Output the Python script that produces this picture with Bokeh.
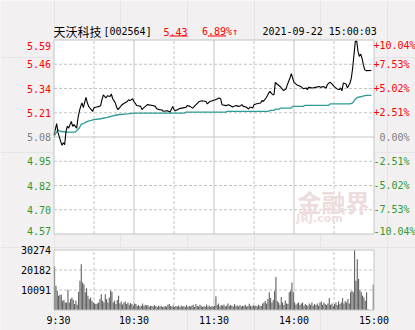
from bokeh.plotting import figure
from bokeh.models import Range1d
from bokeh.core.properties import value
from bokeh.embed import file_html
from bokeh.resources import INLINE

# ---------------- data ----------------
stock_name = "天沃科技"
stock_code = "[002564]"
last_price = "5.43"
change_text = "6.89%↑"
timestamp = "2021-09-22 15:00:03"
prev_close = 5.08

pct_levels = [10.04, 7.53, 5.02, 2.51, 0.00, -2.51, -5.02, -7.53, -10.04]
price_labels = ["5.59", "5.46", "5.34", "5.21", "5.08", "4.95", "4.82", "4.70", "4.57"]
pct_labels = ["+10.04%", "+7.53%", "+5.02%", "+2.51%", "0.00%", "-2.51%", "-5.02%", "-7.53%", "-10.04%"]

time_ticks = [0, 60, 120, 180, 240]
time_labels = ["9:30", "10:30", "11:30", "14:00", "15:00"]
vol_ticks = [10091, 20182, 30274]
vol_labels = ["10091", "20182", "30274"]

# minutes since 9:30 (lunch break removed) and price
price_minutes = [
    0, 2, 3, 5, 6, 7, 8, 9, 10, 11,
    13, 14, 15, 17, 18, 19, 20, 21, 22, 24,
    25, 26, 27, 29, 30, 32, 34, 35, 36, 37,
    39, 40, 42, 43, 44, 45, 46, 47, 48, 50,
    51, 53, 55, 56, 57, 59, 60, 62, 65, 66,
    67, 70, 74, 76, 77, 79, 81, 82, 85, 87,
    88, 89, 90, 91, 94, 96, 99, 100, 102, 104,
    106, 109, 111, 114, 115, 117, 121, 124, 125, 126,
    129, 131, 134, 136, 139, 141, 142, 144, 146, 147,
    149, 150, 152, 155, 156, 157, 159, 160, 161, 162,
    164, 165, 166, 167, 170, 172, 174, 175, 177, 178,
    179, 180, 182, 185, 187, 189, 190, 191, 194, 196,
    199, 200, 202, 204, 205, 207, 209, 210, 212, 214,
    215, 216, 217, 219, 220, 222, 223, 224, 225, 226,
    227, 228, 229, 230, 231, 232, 233, 234, 238,
]
price_values = [
    5.090, 5.150, 5.103, 5.057, 5.036, 5.050, 5.040, 5.109, 5.136, 5.127,
    5.162, 5.136, 5.145, 5.127, 5.180, 5.215, 5.241, 5.259, 5.234, 5.288,
    5.260, 5.241, 5.232, 5.215, 5.234, 5.238, 5.241, 5.246, 5.276, 5.302,
    5.285, 5.297, 5.293, 5.306, 5.281, 5.271, 5.259, 5.236, 5.224, 5.241,
    5.250, 5.259, 5.267, 5.276, 5.271, 5.281, 5.267, 5.246, 5.241, 5.224,
    5.232, 5.250, 5.246, 5.241, 5.229, 5.224, 5.222, 5.215, 5.218, 5.211,
    5.224, 5.241, 5.224, 5.218, 5.229, 5.232, 5.236, 5.246, 5.241, 5.232,
    5.246, 5.267, 5.271, 5.267, 5.254, 5.267, 5.276, 5.285, 5.280, 5.250,
    5.245, 5.250, 5.238, 5.245, 5.241, 5.250, 5.241, 5.238, 5.227, 5.238,
    5.232, 5.250, 5.255, 5.259, 5.272, 5.267, 5.285, 5.297, 5.311, 5.320,
    5.302, 5.302, 5.367, 5.360, 5.343, 5.325, 5.332, 5.355, 5.390, 5.413,
    5.390, 5.367, 5.355, 5.346, 5.334, 5.338, 5.329, 5.341, 5.338, 5.341,
    5.346, 5.341, 5.346, 5.338, 5.355, 5.369, 5.355, 5.346, 5.334, 5.329,
    5.338, 5.323, 5.364, 5.359, 5.338, 5.364, 5.390, 5.443, 5.513, 5.583,
    5.586, 5.530, 5.504, 5.516, 5.495, 5.460, 5.434, 5.429, 5.430,
]

avg_minutes = [
    0, 3, 5, 10, 16, 19, 20.5, 22.5, 25, 30,
    35, 40, 47.5, 55, 60, 98, 99, 129, 130, 161,
    162, 165, 166, 169, 170, 178, 179, 187, 188, 206,
    207, 222, 224, 225.5, 227.5, 231, 234, 238,
]
avg_values = [
    5.083, 5.118, 5.109, 5.106, 5.106, 5.127, 5.148, 5.152, 5.162, 5.171,
    5.176, 5.183, 5.197, 5.202, 5.206, 5.206, 5.211, 5.211, 5.215, 5.215,
    5.220, 5.220, 5.227, 5.227, 5.232, 5.232, 5.241, 5.241, 5.246, 5.246,
    5.254, 5.254, 5.259, 5.276, 5.288, 5.293, 5.299, 5.299,
]

volumes = [
    21900, 12200, 9700, 7200, 7700, 7700, 4700, 5000, 3800, 3800,
    10200, 3800, 5500, 6300, 5000, 3000, 4700, 2700, 9200, 14700,
    23100, 13900, 13000, 8900, 11000, 7200, 5500, 6300, 4700, 3800,
    3300, 3000, 3300, 3800, 5500, 8000, 4700, 3800, 8000, 5500,
    3800, 6300, 9700, 9200, 3800, 4700, 3000, 5000, 7200, 3300,
    4300, 2800, 3800, 4300, 3000, 3800, 2700, 3500, 3000, 2200,
    3300, 3000, 2000, 2500, 1800, 2200, 3300, 2000, 2700, 2300,
    2500, 1700, 2200, 2000, 1800, 2500, 2000, 1500, 2200, 1800,
    2000, 1500, 1800, 2000, 1700, 2700, 3000, 2000, 1800, 2300,
    1500, 2000, 1800, 2300, 1500, 2200, 1800, 2000, 1500, 2500,
    1700, 2000, 1800, 2200, 2700, 1500, 3000, 2000, 1800, 2700,
    2200, 1500, 2000, 1700, 2800, 1800, 2300, 1500, 2000, 1800,
    2000, 6900, 2500, 3300, 1800, 2500, 2200, 2800, 1800, 2200,
    3300, 2000, 2500, 2200, 1800, 3000, 2000, 2300, 1800, 2500,
    1800, 2200, 2000, 2700, 1800, 2000, 3200, 2200, 1800, 2500,
    2000, 2300, 1800, 2700, 2200, 2000, 3300, 3800, 4500, 3300,
    5500, 8900, 6000, 3800, 5000, 9500, 16700, 4500, 3800, 2700,
    6500, 3800, 2500, 4800, 3300, 3000, 9000, 9700, 13900, 9000,
    3800, 2700, 3300, 3800, 2500, 3300, 3800, 2200, 3000, 2500,
    2000, 3300, 2700, 3800, 2200, 3000, 2500, 3300, 2200, 3800,
    4300, 2700, 3800, 3000, 2500, 3300, 6000, 2700, 3300, 2200,
    3000, 3800, 2500, 4300, 3000, 3800, 6000, 3300, 4500, 3800,
    5500, 3300, 9000, 9700, 9000, 30274, 14700, 25600, 15600, 10000,
    8900, 7200, 6300, 4700, 8900, 500, 0, 0, 0, 12700,
]
vol_minutes = list(range(len(volumes)))

# ---------------- styling / layout ----------------
BG = "#f2f0f0"
RED = "#ff0000"
GREEN = "#2e9b2e"
GRAY = "#808080"
GRID = "#c4c4c4"
MONO = "DejaVu Sans Mono"
CJK = "Noto Sans CJK SC"

W, H = 415, 330
SESSION = 240                     # trading minutes
PX_LEFT, PX_PER_MIN = 53.5, 4 / 3
PX_TOP, PX_BOTTOM = 39.5, 233.5   # price panel
PX_VTOP, PX_VBOT = 249.5, 309.5   # volume panel
CHAR_W = 6.02                     # width of one 10px mono character

ylo = prev_close * (1 - max(pct_levels) / 100)
yhi = prev_close * (1 + max(pct_levels) / 100)
vmax = max(vol_ticks)

x_start = -PX_LEFT / PX_PER_MIN
x_end = x_start + W / PX_PER_MIN
k = (yhi - ylo) / (PX_BOTTOM - PX_TOP)
y_end = yhi + PX_TOP * k
y_start = y_end - H * k
kv = vmax / (PX_VBOT - PX_VTOP)
v_end = vmax + PX_VTOP * kv
v_start = v_end - H * kv


def X(px):
    return x_start + px / PX_PER_MIN


def Y(py):
    return y_end - py * k


def level_color(v):
    return RED if v > 0 else (GREEN if v < 0 else GRAY)


p = figure(width=W, height=H, output_backend="svg", toolbar_location=None,
           x_range=Range1d(x_start, x_end), y_range=Range1d(y_start, y_end),
           x_axis_location=None, y_axis_location=None,
           min_border=0, min_border_left=0, min_border_right=0,
           min_border_top=0, min_border_bottom=0,
           background_fill_color=BG, border_fill_color=BG, outline_line_color=None)
p.extra_y_ranges = {"vol": Range1d(v_start, v_end)}

# panel backgrounds
p.quad(left=[0], right=[SESSION], bottom=[ylo], top=[yhi], fill_color="white", line_color=None)
p.quad(left=[0], right=[SESSION], bottom=[0], top=[vmax], fill_color="white", line_color=None,
       y_range_name="vol")

# grid lines
dashed_x = [30, 90, 150, 210]
solid_x = [60, 120, 180]
level_prices = [prev_close * (1 + v / 100) for v in pct_levels]
inner_levels = [lp for lp, v in zip(level_prices, pct_levels) if v != 0 and abs(v) < max(pct_levels)]

p.segment(x0=dashed_x, x1=dashed_x, y0=[ylo] * 4, y1=[yhi] * 4, line_color=GRID, line_dash="3 2")
p.segment(x0=solid_x, x1=solid_x, y0=[ylo] * 3, y1=[yhi] * 3, line_color=GRID)
p.segment(x0=[0] * len(inner_levels), x1=[SESSION] * len(inner_levels), y0=inner_levels,
          y1=inner_levels, line_color=GRID, line_dash="3 2")
p.segment(x0=[0], x1=[SESSION], y0=[prev_close], y1=[prev_close], line_color=GRID)

p.segment(x0=dashed_x, x1=dashed_x, y0=[0] * 4, y1=[vmax] * 4, line_color=GRID, line_dash="3 2",
          y_range_name="vol")
p.segment(x0=solid_x, x1=solid_x, y0=[0] * 3, y1=[vmax] * 3, line_color=GRID, y_range_name="vol")
p.segment(x0=[0, 0], x1=[SESSION, SESSION], y0=vol_ticks[:-1], y1=vol_ticks[:-1],
          line_color=GRID, line_dash="3 2", y_range_name="vol")

# faint watermark
p.text(x=[X(333)], y=[Y(201)], text=["金融界"], text_color="#ecdcdc", text_align="center",
       text_baseline="middle", text_font=value(CJK), text_font_size="24px", text_font_style="bold")
p.text(x=[X(319)], y=[Y(218)], text=["JRJ.com"], text_color="#f0dede", text_align="center",
       text_baseline="middle", text_font=value("DejaVu Sans"), text_font_size="11px",
       text_font_style="bold")

# data
p.line(avg_minutes, avg_values, line_color="#2e9a96", line_width=1.3)
p.line(price_minutes, price_values, line_color="black", line_width=1.1)
p.vbar(x=[m + 0.45 for m in vol_minutes], top=volumes, width=0.8,
       fill_color="#5c5c5c", line_color=None, y_range_name="vol")

# panel outlines
p.quad(left=[0], right=[SESSION], bottom=[ylo], top=[yhi], fill_color=None, line_color=GRID)
p.quad(left=[0], right=[SESSION], bottom=[0], top=[vmax], fill_color=None, line_color=GRID,
       y_range_name="vol")

# price / percent labels
label_y = list(level_prices)
label_y[0] = Y(45)
label_y[-1] = Y(230.5)
cols = [level_color(v) for v in pct_levels]
p.text(x=[X(50.5)] * len(price_labels), y=label_y, text=price_labels, text_color=cols,
       text_align="right", text_baseline="middle", text_font=value(MONO), text_font_size="10px")
p.text(x=[X(373) + (1 if v == 0 else 0) * CHAR_W / PX_PER_MIN for v in pct_levels], y=label_y,
       text=pct_labels, text_color=cols,
       text_align="left", text_baseline="middle", text_font=value(MONO), text_font_size="10px")

# header
ty = Y(31)
p.text(x=[X(53)], y=[ty], text=[stock_name], text_color="black", text_align="left",
       text_baseline="middle", text_font=value(CJK), text_font_size="12px")
p.text(x=[X(103), X(262)], y=[ty, ty], text=[stock_code, timestamp], text_color="black",
       text_align="left", text_baseline="middle", text_font=value(MONO), text_font_size="10px")
hdr_x = [X(163), X(201.5)]
hdr_txt = [last_price, change_text]
p.text(x=hdr_x, y=[ty, ty], text=hdr_txt, text_color=RED,
       text_align="left", text_baseline="middle", text_font=value(MONO), text_font_size="10px")
# underline under the digits after the first one (hyperlink style)
uy = Y(35.5)
p.segment(x0=[hx + CHAR_W / PX_PER_MIN for hx in hdr_x],
          x1=[hx + (len(t) - (1 if t.endswith("↑") else 0) - (1 if "%" in t else 0)) * CHAR_W / PX_PER_MIN
              for hx, t in zip(hdr_x, hdr_txt)],
          y0=[uy, uy], y1=[uy, uy], line_color=RED, line_width=1)

# volume axis labels
p.text(x=[X(50.5)] * 3, y=vol_ticks, text=vol_labels, text_color="black", text_align="right",
       text_baseline="middle", text_font=value(MONO), text_font_size="10px", y_range_name="vol")
time_x = [max(t, X(46) + len(l) * CHAR_W / PX_PER_MIN / 2) for t, l in zip(time_ticks, time_labels)]
p.text(x=time_x, y=[Y(319.5)] * len(time_ticks), text=time_labels, text_color="black",
       text_align="center", text_baseline="middle", text_font=value(MONO), text_font_size="10px")

open("out.html", "w").write(file_html(p, INLINE))
